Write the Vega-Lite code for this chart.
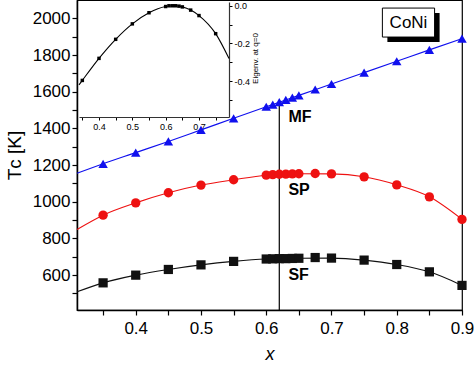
{
  "$schema": "https://vega.github.io/schema/vega-lite/v6.json",
  "width": 385,
  "height": 310,
  "autosize": {"type": "none"},
  "padding": {"left": 77, "top": 0, "right": 12, "bottom": 55},
  "config": {
    "font": "Liberation Sans",
    "view": {"stroke": "black", "strokeWidth": 1.2},
    "axis": {
      "labelFont": "Liberation Sans",
      "titleFont": "Liberation Sans",
      "labelColor": "black",
      "titleColor": "black",
      "domainColor": "black",
      "tickColor": "black",
      "domainWidth": 1.5,
      "tickWidth": 1.2,
      "grid": false
    }
  },
  "datasets": {
    "curves": [
      {"series": "MF", "x": 0.31, "T": 1155},
      {"series": "MF", "x": 0.35, "T": 1207},
      {"series": "MF", "x": 0.40, "T": 1268},
      {"series": "MF", "x": 0.45, "T": 1329},
      {"series": "MF", "x": 0.50, "T": 1392},
      {"series": "MF", "x": 0.55, "T": 1455},
      {"series": "MF", "x": 0.60, "T": 1518},
      {"series": "MF", "x": 0.65, "T": 1580},
      {"series": "MF", "x": 0.70, "T": 1642},
      {"series": "MF", "x": 0.75, "T": 1704},
      {"series": "MF", "x": 0.80, "T": 1766},
      {"series": "MF", "x": 0.85, "T": 1828},
      {"series": "MF", "x": 0.90, "T": 1889},
      {"series": "SP", "x": 0.31, "T": 849},
      {"series": "SP", "x": 0.35, "T": 927},
      {"series": "SP", "x": 0.40, "T": 994},
      {"series": "SP", "x": 0.45, "T": 1049},
      {"series": "SP", "x": 0.50, "T": 1091},
      {"series": "SP", "x": 0.55, "T": 1120},
      {"series": "SP", "x": 0.60, "T": 1145},
      {"series": "SP", "x": 0.65, "T": 1153},
      {"series": "SP", "x": 0.70, "T": 1152},
      {"series": "SP", "x": 0.75, "T": 1136},
      {"series": "SP", "x": 0.80, "T": 1092},
      {"series": "SP", "x": 0.85, "T": 1027},
      {"series": "SP", "x": 0.90, "T": 904},
      {"series": "SF", "x": 0.31, "T": 509},
      {"series": "SF", "x": 0.35, "T": 558},
      {"series": "SF", "x": 0.40, "T": 600},
      {"series": "SF", "x": 0.45, "T": 631},
      {"series": "SF", "x": 0.50, "T": 656},
      {"series": "SF", "x": 0.55, "T": 675},
      {"series": "SF", "x": 0.60, "T": 688},
      {"series": "SF", "x": 0.65, "T": 692},
      {"series": "SF", "x": 0.70, "T": 693},
      {"series": "SF", "x": 0.75, "T": 682},
      {"series": "SF", "x": 0.80, "T": 658},
      {"series": "SF", "x": 0.85, "T": 618},
      {"series": "SF", "x": 0.90, "T": 544}
    ],
    "points": [
      {"series": "MF", "x": 0.35, "T": 1207},
      {"series": "MF", "x": 0.40, "T": 1268},
      {"series": "MF", "x": 0.45, "T": 1329},
      {"series": "MF", "x": 0.50, "T": 1392},
      {"series": "MF", "x": 0.55, "T": 1455},
      {"series": "MF", "x": 0.60, "T": 1518},
      {"series": "MF", "x": 0.61, "T": 1530},
      {"series": "MF", "x": 0.62, "T": 1543},
      {"series": "MF", "x": 0.63, "T": 1555},
      {"series": "MF", "x": 0.64, "T": 1568},
      {"series": "MF", "x": 0.65, "T": 1580},
      {"series": "MF", "x": 0.675, "T": 1612},
      {"series": "MF", "x": 0.70, "T": 1642},
      {"series": "MF", "x": 0.75, "T": 1704},
      {"series": "MF", "x": 0.80, "T": 1766},
      {"series": "MF", "x": 0.85, "T": 1828},
      {"series": "MF", "x": 0.90, "T": 1889},
      {"series": "SP", "x": 0.35, "T": 927},
      {"series": "SP", "x": 0.40, "T": 994},
      {"series": "SP", "x": 0.45, "T": 1049},
      {"series": "SP", "x": 0.50, "T": 1091},
      {"series": "SP", "x": 0.55, "T": 1120},
      {"series": "SP", "x": 0.60, "T": 1145},
      {"series": "SP", "x": 0.61, "T": 1148},
      {"series": "SP", "x": 0.62, "T": 1150},
      {"series": "SP", "x": 0.63, "T": 1151},
      {"series": "SP", "x": 0.64, "T": 1152},
      {"series": "SP", "x": 0.65, "T": 1153},
      {"series": "SP", "x": 0.675, "T": 1154},
      {"series": "SP", "x": 0.70, "T": 1152},
      {"series": "SP", "x": 0.75, "T": 1136},
      {"series": "SP", "x": 0.80, "T": 1092},
      {"series": "SP", "x": 0.85, "T": 1027},
      {"series": "SP", "x": 0.90, "T": 904},
      {"series": "SF", "x": 0.35, "T": 558},
      {"series": "SF", "x": 0.40, "T": 600},
      {"series": "SF", "x": 0.45, "T": 631},
      {"series": "SF", "x": 0.50, "T": 656},
      {"series": "SF", "x": 0.55, "T": 675},
      {"series": "SF", "x": 0.60, "T": 688},
      {"series": "SF", "x": 0.61, "T": 689},
      {"series": "SF", "x": 0.62, "T": 690},
      {"series": "SF", "x": 0.63, "T": 690},
      {"series": "SF", "x": 0.64, "T": 691},
      {"series": "SF", "x": 0.65, "T": 692},
      {"series": "SF", "x": 0.675, "T": 696},
      {"series": "SF", "x": 0.70, "T": 693},
      {"series": "SF", "x": 0.75, "T": 682},
      {"series": "SF", "x": 0.80, "T": 658},
      {"series": "SF", "x": 0.85, "T": 618},
      {"series": "SF", "x": 0.90, "T": 544}
    ],
    "labels": [
      {"label": "MF", "x": 0.634, "T": 1462},
      {"label": "SP", "x": 0.634, "T": 1063},
      {"label": "SF", "x": 0.634, "T": 600}
    ],
    "marker": [{"x": 0.62, "T": 1552, "T2": 410}],
    "box": [{"name": "CoNi", "x": 0.778, "x2": 0.858, "T": 2056, "T2": 1898, "xc": 0.818, "Tc": 1977}],
    "inset_curve": [
      {"x": 0.34, "e": -0.42},
      {"x": 0.35, "e": -0.396},
      {"x": 0.40, "e": -0.279},
      {"x": 0.45, "e": -0.178},
      {"x": 0.50, "e": -0.096},
      {"x": 0.55, "e": -0.037},
      {"x": 0.60, "e": -0.004},
      {"x": 0.625, "e": 0.0},
      {"x": 0.65, "e": -0.006},
      {"x": 0.675, "e": -0.023},
      {"x": 0.70, "e": -0.052},
      {"x": 0.75, "e": -0.148},
      {"x": 0.79, "e": -0.28}
    ],
    "inset_points": [
      {"x": 0.35, "e": -0.396},
      {"x": 0.40, "e": -0.279},
      {"x": 0.45, "e": -0.178},
      {"x": 0.50, "e": -0.096},
      {"x": 0.55, "e": -0.037},
      {"x": 0.60, "e": -0.004},
      {"x": 0.61, "e": 0.0},
      {"x": 0.62, "e": 0.0},
      {"x": 0.63, "e": 0.0},
      {"x": 0.64, "e": -0.002},
      {"x": 0.65, "e": -0.006},
      {"x": 0.675, "e": -0.023},
      {"x": 0.70, "e": -0.052},
      {"x": 0.75, "e": -0.148}
    ]
  },
  "layer": [
    {
      "data": {"name": "curves"},
      "mark": {"type": "line", "interpolate": "monotone", "strokeWidth": 1.1},
      "encoding": {
        "x": {"field": "x", "type": "quantitative",
          "scale": {"domain": [0.31, 0.9], "nice": false, "zero": false},
          "axis": {
            "orient": "bottom",
            "values": [0.35, 0.4, 0.45, 0.5, 0.55, 0.6, 0.65, 0.7, 0.75, 0.8, 0.85, 0.9],
            "labelExpr": "round(datum.value*100)%10==5 ? '' : format(datum.value,'.1f')",
            "labelFontSize": 17,
            "labelPadding": 5,
            "labelOverlap": false,
            "labelFlush": false,
            "tickSize": 5,
            "title": "x",
            "titleFontSize": 18,
            "titleFontStyle": "italic",
            "titleFontWeight": "normal",
            "titlePadding": 9
          }},
        "y": {"field": "T", "type": "quantitative",
          "scale": {"domain": [410, 2100], "nice": false, "zero": false},
          "axis": {
            "orient": "left",
            "values": [500, 600, 700, 800, 900, 1000, 1100, 1200, 1300, 1400, 1500, 1600, 1700, 1800, 1900, 2000],
            "labelExpr": "datum.value % 200 == 0 ? format(datum.value,'d') : ''",
            "labelFontSize": 17,
            "labelPadding": 2,
            "labelOverlap": false,
            "tickSize": 5,
            "title": "Tᴄ [K]",
            "titleFontSize": 19,
            "titleFontWeight": "normal",
            "titlePadding": 8
          }},
        "color": {"field": "series", "type": "nominal",
          "scale": {"domain": ["MF", "SP", "SF"], "range": ["#1010ee", "#ee1111", "#111111"]},
          "legend": null}
      }
    },
    {
      "data": {"name": "marker"},
      "mark": {"type": "rule", "color": "black", "strokeWidth": 1.2},
      "encoding": {
        "x": {"field": "x", "type": "quantitative", "scale": {"domain": [0.31, 0.9], "nice": false, "zero": false}, "axis": null},
        "y": {"field": "T", "type": "quantitative", "scale": {"domain": [410, 2100], "nice": false, "zero": false}, "axis": null},
        "y2": {"field": "T2"}
      }
    },
    {
      "data": {"name": "points"},
      "mark": {"type": "point", "filled": true, "opacity": 1},
      "encoding": {
        "x": {"field": "x", "type": "quantitative", "scale": {"domain": [0.31, 0.9], "nice": false, "zero": false}, "axis": null},
        "y": {"field": "T", "type": "quantitative", "scale": {"domain": [410, 2100], "nice": false, "zero": false}, "axis": null},
        "shape": {"field": "series", "type": "nominal",
          "scale": {"domain": ["MF", "SP", "SF"], "range": ["triangle-up", "circle", "square"]},
          "legend": null},
        "size": {"field": "series", "type": "nominal",
          "scale": {"domain": ["MF", "SP", "SF"], "range": [90, 85, 70]},
          "legend": null},
        "color": {"field": "series", "type": "nominal", "legend": null}
      }
    },
    {
      "data": {"name": "labels"},
      "mark": {"type": "text", "align": "left", "baseline": "middle", "fontSize": 16, "fontWeight": "bold", "color": "black"},
      "encoding": {
        "x": {"field": "x", "type": "quantitative", "scale": {"domain": [0.31, 0.9], "nice": false, "zero": false}, "axis": null},
        "y": {"field": "T", "type": "quantitative", "scale": {"domain": [410, 2100], "nice": false, "zero": false}, "axis": null},
        "text": {"field": "label"}
      }
    },
    {
      "data": {"name": "box"},
      "mark": {"type": "rect", "color": "black", "xOffset": 5, "x2Offset": 5, "yOffset": 5, "y2Offset": 5},
      "encoding": {
        "x": {"field": "x", "type": "quantitative", "scale": {"domain": [0.31, 0.9], "nice": false, "zero": false}, "axis": null},
        "x2": {"field": "x2"},
        "y": {"field": "T", "type": "quantitative", "scale": {"domain": [410, 2100], "nice": false, "zero": false}, "axis": null},
        "y2": {"field": "T2"}
      }
    },
    {
      "data": {"name": "box"},
      "mark": {"type": "rect", "fill": "white", "stroke": "black", "strokeWidth": 1},
      "encoding": {
        "x": {"field": "x", "type": "quantitative", "scale": {"domain": [0.31, 0.9], "nice": false, "zero": false}, "axis": null},
        "x2": {"field": "x2"},
        "y": {"field": "T", "type": "quantitative", "scale": {"domain": [410, 2100], "nice": false, "zero": false}, "axis": null},
        "y2": {"field": "T2"}
      }
    },
    {
      "data": {"name": "box"},
      "mark": {"type": "text", "align": "center", "baseline": "middle", "fontSize": 17, "color": "black"},
      "encoding": {
        "x": {"field": "xc", "type": "quantitative", "scale": {"domain": [0.31, 0.9], "nice": false, "zero": false}, "axis": null},
        "y": {"field": "Tc", "type": "quantitative", "scale": {"domain": [410, 2100], "nice": false, "zero": false}, "axis": null},
        "text": {"field": "name"}
      }
    },
    {
      "data": {"name": "inset_curve"},
      "mark": {"type": "line", "interpolate": "monotone", "color": "black", "strokeWidth": 1.1},
      "encoding": {
        "x": {"field": "x", "type": "quantitative",
          "scale": {"domain": [0.34, 0.79], "range": [2, 152], "nice": false, "zero": false},
          "axis": {
            "orient": "bottom",
            "offset": -193,
            "values": [0.35, 0.4, 0.45, 0.5, 0.55, 0.6, 0.65, 0.7, 0.75],
            "labelExpr": "round(datum.value*100)%10==5 ? '' : format(datum.value,'.1f')",
            "labelFontSize": 9,
            "labelPadding": 2,
            "labelOverlap": false,
            "tickSize": 3,
            "tickWidth": 1,
            "domainWidth": 1.2,
            "domainColor": "#333333",
            "title": null
          }},
        "y": {"field": "e", "type": "quantitative",
          "scale": {"domain": [-0.59, 0.02], "range": [117, 2], "nice": false, "zero": false},
          "axis": {
            "orient": "right",
            "offset": -233,
            "values": [0, -0.1, -0.2, -0.3, -0.4, -0.5],
            "labelExpr": "round(abs(datum.value)*10)%2==1 ? '' : replace(format(datum.value,'.1f'),'−','-')",
            "labelFontSize": 9,
            "labelPadding": 2,
            "labelOverlap": false,
            "tickSize": 3,
            "tickWidth": 1,
            "domainWidth": 1.2,
            "domainColor": "#333333",
            "title": "Eigenv. at q=0",
            "titleFontSize": 8,
            "titleFontWeight": "normal",
            "titleAngle": 270,
            "titleX": 26,
            "titleY": 58,
            "titleAlign": "center",
            "titleBaseline": "middle"
          }}
      }
    },
    {
      "data": {"name": "inset_points"},
      "mark": {"type": "square", "color": "black", "size": 12, "opacity": 1},
      "encoding": {
        "x": {"field": "x", "type": "quantitative", "scale": {"domain": [0.34, 0.79], "range": [2, 152], "nice": false, "zero": false}, "axis": null},
        "y": {"field": "e", "type": "quantitative", "scale": {"domain": [-0.59, 0.02], "range": [117, 2], "nice": false, "zero": false}, "axis": null}
      }
    }
  ],
  "resolve": {"scale": {"x": "independent", "y": "independent"}}
}
